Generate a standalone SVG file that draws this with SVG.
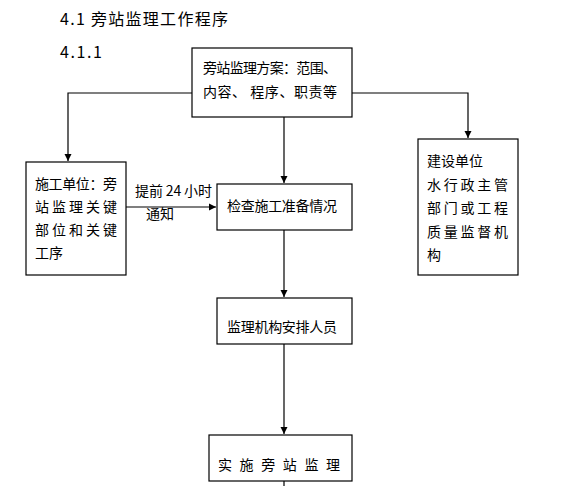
<svg xmlns="http://www.w3.org/2000/svg" width="586" height="486" viewBox="0 0 586 486">
<style>
text{font-family:"Noto Sans CJK SC","Noto Sans",sans-serif;font-size:14px;fill:#000}
.hd{font-size:16px}
.box{fill:#fff;stroke:#000;stroke-width:1.2}
.ln{fill:none;stroke:#000;stroke-width:1.2}
</style>
<defs>
<marker id="ah" markerWidth="8" markerHeight="8" refX="7" refY="4" orient="auto" markerUnits="userSpaceOnUse">
<path d="M0,0.5 L7,4 L0,7.5 Z" fill="#000"/>
</marker>
</defs>
<rect width="586" height="486" fill="#fff"/>
<text class="hd" x="60" y="25" textLength="168" lengthAdjust="spacing">4.1 旁站监理工作程序</text>
<text class="hd" x="60" y="58" textLength="42" lengthAdjust="spacing">4.1.1</text>
<g id="connectors">
<path class="ln" d="M192,93 H68 V161" marker-end="url(#ah)"/>
<path class="ln" d="M352,93 H468 V138" marker-end="url(#ah)"/>
<path class="ln" d="M284,117 V183" marker-end="url(#ah)"/>
<path class="ln" d="M126,207 H216" marker-end="url(#ah)"/>
<path class="ln" d="M284,230 V297" marker-end="url(#ah)"/>
<path class="ln" d="M284,344 V434" marker-end="url(#ah)"/>
<path class="ln" d="M284,481 V486"/>
<text x="135" y="196" textLength="77" lengthAdjust="spacing">提前 24 小时</text>
<text x="146" y="219">通知</text>
</g>
<g id="plan">
<rect class="box" x="192" y="48" width="160" height="69"/>
<text x="203" y="73" textLength="134" lengthAdjust="spacing">旁站监理方案：范围、</text>
<text x="203" y="97" textLength="134" lengthAdjust="spacing">内容、 程序、职责等</text>
</g>
<g id="contractor">
<rect class="box" x="26" y="162" width="100" height="113"/>
<text x="35" y="189" textLength="82" lengthAdjust="spacing">施工单位：旁</text>
<text x="35" y="212" textLength="82" lengthAdjust="spacing">站监理关键</text>
<text x="35" y="235" textLength="82" lengthAdjust="spacing">部位和关键</text>
<text x="35" y="258">工序</text>
</g>
<g id="owner">
<rect class="box" x="418" y="139" width="100" height="136"/>
<text x="427" y="166">建设单位</text>
<text x="427" y="190" textLength="81" lengthAdjust="spacing">水行政主管</text>
<text x="427" y="213" textLength="81" lengthAdjust="spacing">部门或工程</text>
<text x="427" y="237" textLength="81" lengthAdjust="spacing">质量监督机</text>
<text x="427" y="260">构</text>
</g>
<g id="check">
<rect class="box" x="217" y="184" width="135" height="46"/>
<text x="227" y="211" textLength="110" lengthAdjust="spacing">检查施工准备情况</text>
</g>
<g id="staff">
<rect class="box" x="217" y="298" width="135" height="46"/>
<text x="227" y="332" textLength="110" lengthAdjust="spacing">监理机构安排人员</text>
</g>
<g id="implement">
<rect class="box" x="209" y="435" width="143" height="46"/>
<text x="218" y="470" textLength="122" lengthAdjust="spacing">实 施 旁 站 监 理</text>
</g>
</svg>
